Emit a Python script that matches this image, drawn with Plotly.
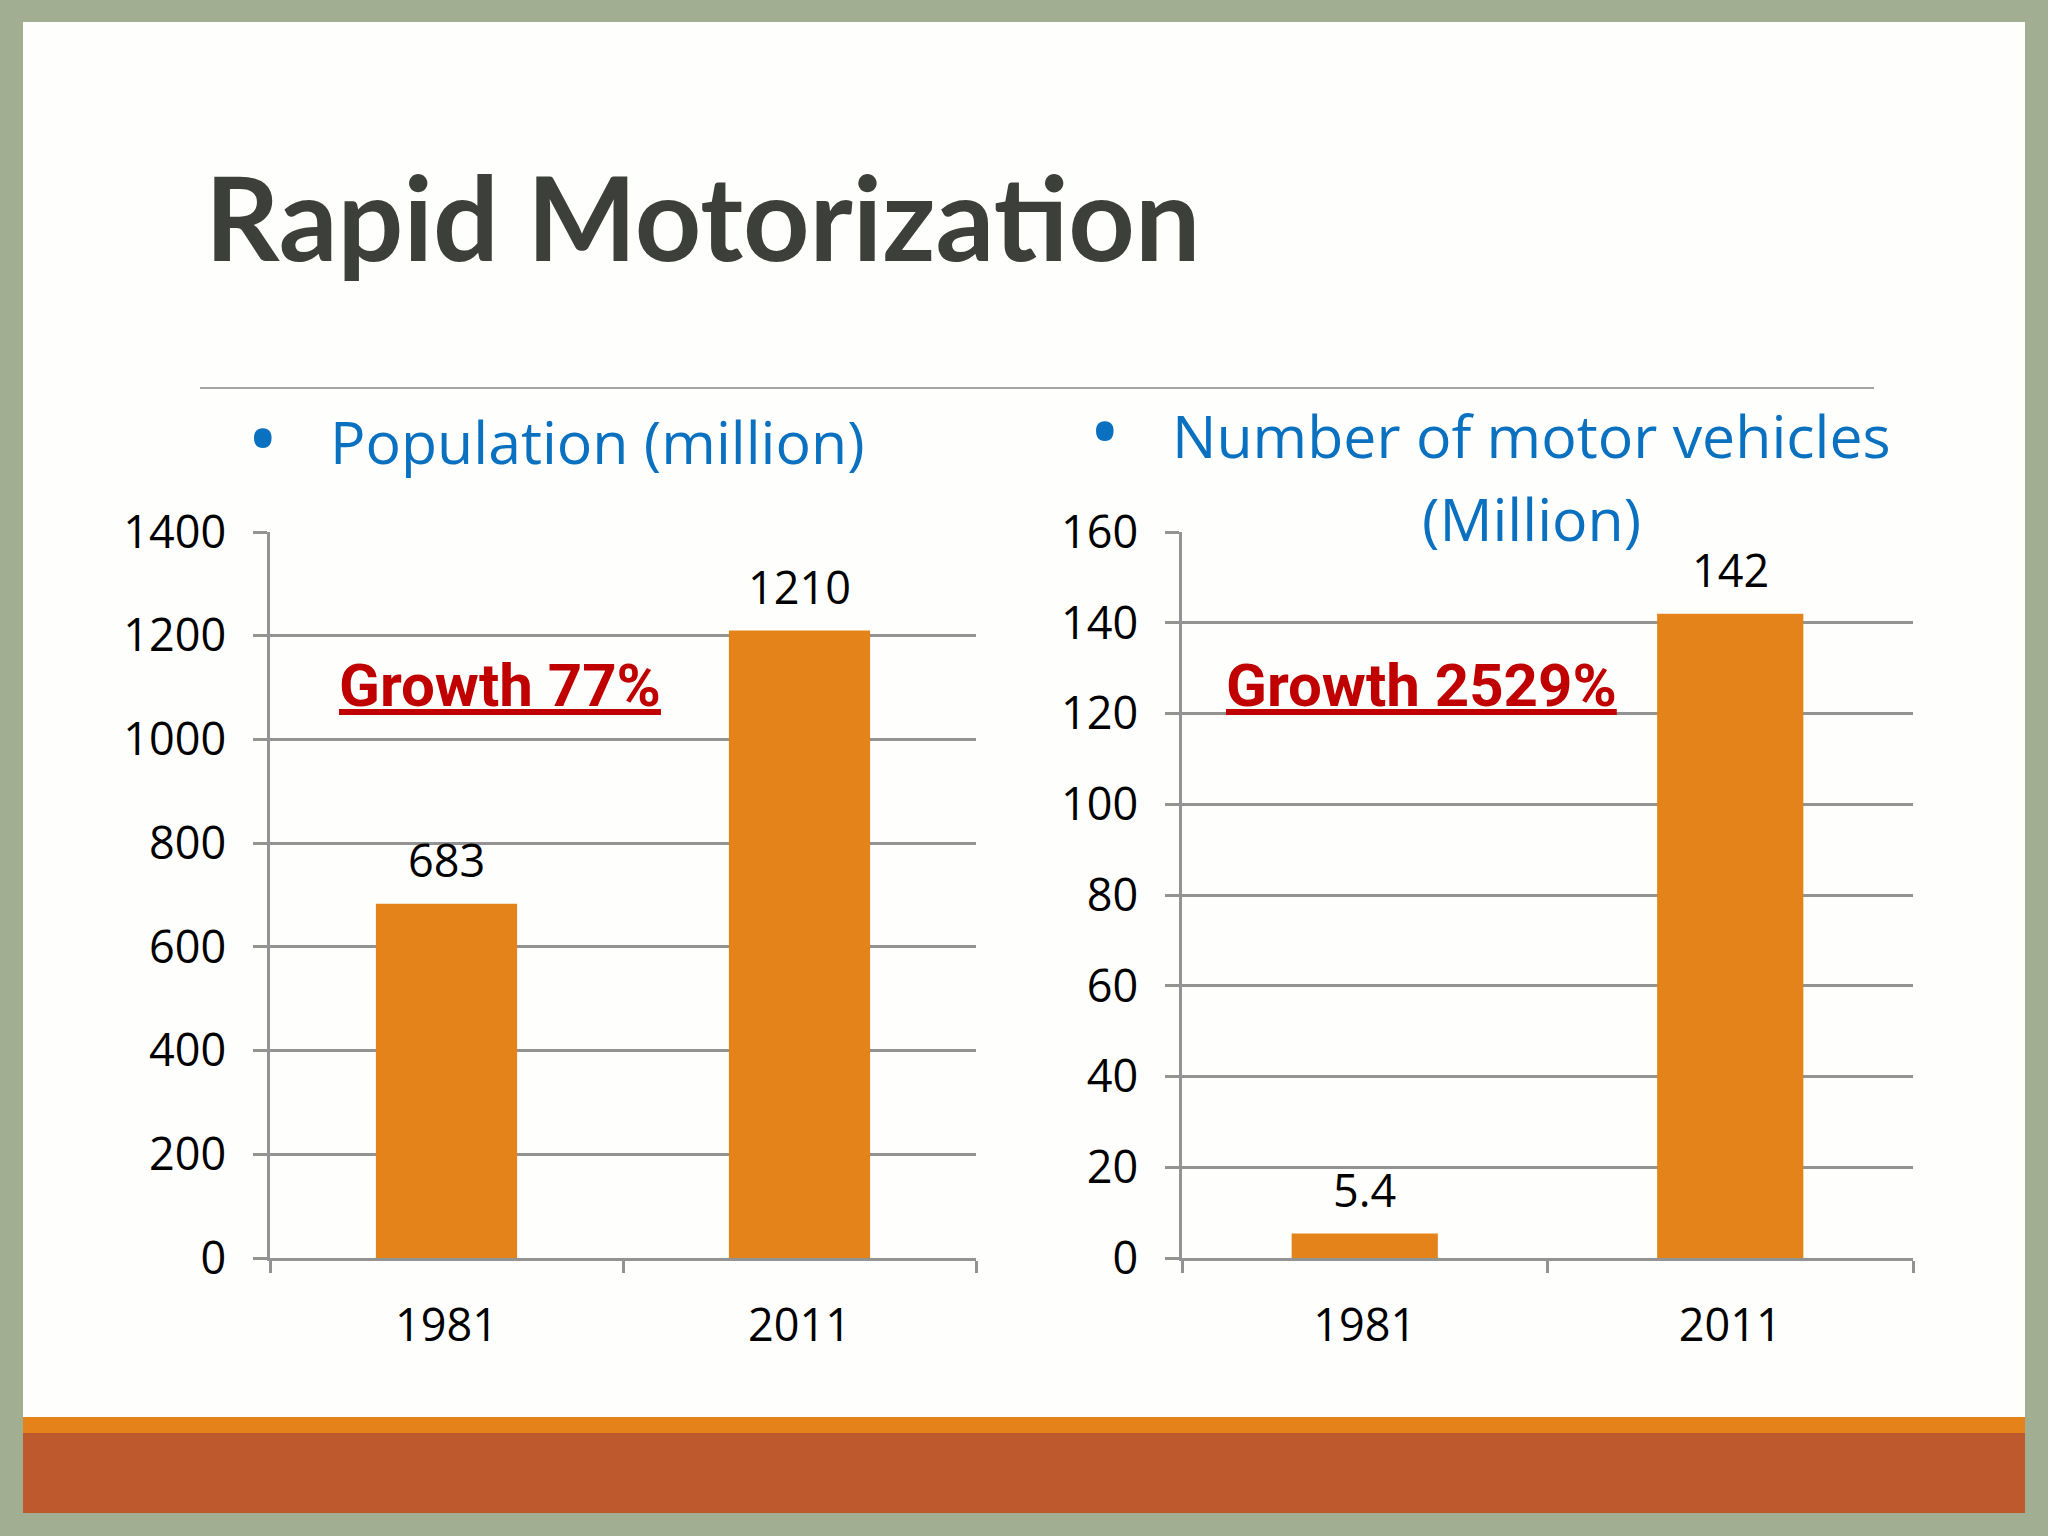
import plotly.graph_objects as go

W, H = 2048, 1536

# ---- data ----
years = ["1981", "2011"]
population = [683, 1210]
vehicles = [5.4, 142]
population_labels = ["683", "1210"]
vehicle_labels = ["5.4", "142"]
pop_ticks = [0, 200, 400, 600, 800, 1000, 1200, 1400]
veh_ticks = [0, 20, 40, 60, 80, 100, 120, 140, 160]

title_text = "Rapid Motorization"
left_header = "Population (million)"
right_header_1 = "Number of motor vehicles"
right_header_2 = "(Million)"
left_growth = "Growth 77%"
right_growth = "Growth 2529%"

# ---- style ----
GREEN = "#A2AE92"
WHITE = "#FEFFFD"
ORANGE = "#E5821A"
BAR = "#E3831A"
BROWN = "#BE582D"
GRID = "#939393"
BLUE = "#0A70C0"
RED = "#C00000"
TITLE_C = "#3D3F3B"
BODY_FONT = "Open Sans"


def px(x):
    return x / W


def py(y):
    return 1 - y / H


fig = go.Figure()

fig.add_trace(go.Bar(x=years, y=population, marker=dict(color=BAR, line=dict(width=0)),
                     xaxis="x", yaxis="y", hoverinfo="skip"))
fig.add_trace(go.Bar(x=years, y=vehicles, marker=dict(color=BAR, line=dict(width=0)),
                     xaxis="x2", yaxis="y2", hoverinfo="skip"))

axis_common_y = dict(
    showgrid=True, gridcolor=GRID, gridwidth=2.5,
    showline=True, linecolor=GRID, linewidth=2.5,
    ticks="outside", ticklen=14, tickcolor=GRID, tickwidth=2.5,
    zeroline=False,
    tickfont=dict(family=BODY_FONT, size=45, color="#000000"),
    ticklabelstandoff=18,
    automargin=False,
    fixedrange=True,
)
axis_common_x = dict(
    type="category",
    range=[-0.5, len(years) - 0.5],
    showgrid=False,
    showline=True, linecolor=GRID, linewidth=2.5,
    ticks="outside", ticklen=12, tickcolor=GRID, tickwidth=2.5,
    tickson="boundaries",
    tickangle=0,
    tickfont=dict(family=BODY_FONT, size=45, color="#000000"),
    ticklabelstandoff=26,
    automargin=False,
    fixedrange=True,
)

ybot, ytop = py(1258), py(532)

fig.update_layout(
    width=W, height=H,
    margin=dict(l=0, r=0, t=0, b=0, autoexpand=False),
    paper_bgcolor=GREEN,
    plot_bgcolor="rgba(0,0,0,0)",
    showlegend=False,
    bargap=0.6,
    xaxis=dict(domain=[px(270), px(976)], anchor="y", **axis_common_x),
    yaxis=dict(domain=[ybot, ytop], anchor="x", range=[0, 1400],
               tickvals=pop_ticks, ticktext=[str(v) for v in pop_ticks], **axis_common_y),
    xaxis2=dict(domain=[px(1182), px(1913)], anchor="y2", **axis_common_x),
    yaxis2=dict(domain=[ybot, ytop], anchor="x2", range=[0, 160],
                tickvals=veh_ticks, ticktext=[str(v) for v in veh_ticks], **axis_common_y),
)

shapes = [
    dict(type="rect", xref="paper", yref="paper", x0=px(23), x1=px(2025), y0=py(1513), y1=py(22),
         fillcolor=WHITE, line=dict(width=0), layer="below"),
    dict(type="rect", xref="paper", yref="paper", x0=px(23), x1=px(2025), y0=py(1433), y1=py(1417),
         fillcolor=ORANGE, line=dict(width=0), layer="above"),
    dict(type="rect", xref="paper", yref="paper", x0=px(23), x1=px(2025), y0=py(1513), y1=py(1433),
         fillcolor=BROWN, line=dict(width=0), layer="above"),
    dict(type="line", xref="paper", yref="paper", x0=px(200), x1=px(1874), y0=py(388), y1=py(388),
         line=dict(color="#A5A5A5", width=2), layer="above"),
]
fig.update_layout(shapes=shapes)

ann = []
# title
ann.append(dict(text="<b>" + title_text + "</b>", xref="paper", yref="paper",
                x=px(203), y=py(216), xanchor="left", yanchor="middle", showarrow=False,
                font=dict(family="Lato", size=116, color=TITLE_C)))
# headers
hfont = dict(family=BODY_FONT, size=59, color=BLUE)
bfont = dict(family=BODY_FONT, size=84, color=BLUE)
ann.append(dict(text="•", xref="paper", yref="paper", x=px(263), y=py(436),
                xanchor="center", yanchor="middle", showarrow=False, font=bfont))
ann.append(dict(text=left_header, xref="paper", yref="paper", x=px(328), y=py(441),
                xanchor="left", yanchor="middle", showarrow=False, font=hfont))
ann.append(dict(text="•", xref="paper", yref="paper", x=px(1105), y=py(429),
                xanchor="center", yanchor="middle", showarrow=False, font=bfont))
ann.append(dict(text=right_header_1, xref="paper", yref="paper", x=px(1531), y=py(435),
                xanchor="center", yanchor="middle", showarrow=False, font=hfont))
ann.append(dict(text=right_header_2, xref="paper", yref="paper", x=px(1531), y=py(518),
                xanchor="center", yanchor="middle", showarrow=False, font=hfont))
# growth labels
gfont = dict(family="Roboto", size=60, color=RED, weight="bold", lineposition="under")
ann.append(dict(text=left_growth, xref="paper", yref="paper", x=px(337), y=py(685),
                xanchor="left", yanchor="middle", showarrow=False, font=gfont))
ann.append(dict(text=right_growth, xref="paper", yref="paper", x=px(1224), y=py(685),
                xanchor="left", yanchor="middle", showarrow=False, font=gfont))
# data labels
lfont = dict(family=BODY_FONT, size=45, color="#000000")
for i, (yv, t) in enumerate(zip(population, population_labels)):
    ann.append(dict(text=t, xref="x", yref="y", x=i, y=yv, xanchor="center", yanchor="bottom",
                    yshift=12, showarrow=False, font=lfont))
for i, (yv, t) in enumerate(zip(vehicles, vehicle_labels)):
    ann.append(dict(text=t, xref="x2", yref="y2", x=i, y=yv, xanchor="center", yanchor="bottom",
                    yshift=12, showarrow=False, font=lfont))

fig.update_layout(annotations=ann)

fig.write_html("out.html", config={"displayModeBar": False})
